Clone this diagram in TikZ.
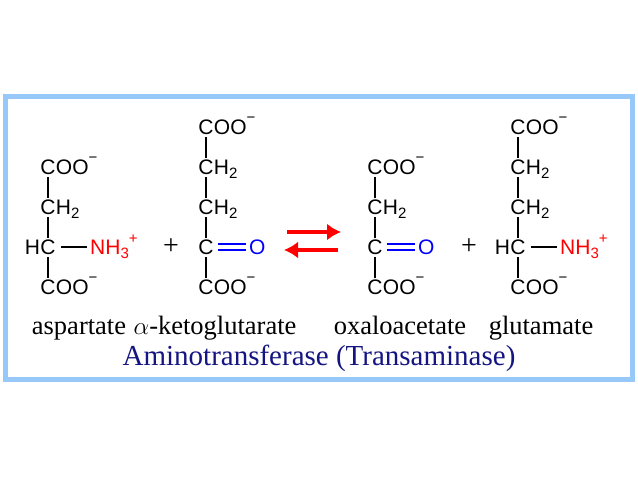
\documentclass[tikz,border=0pt]{standalone}
\usepackage{fontspec}
\usetikzlibrary{arrows.meta}
\setmainfont{Liberation Serif}
\newfontfamily\chemf{Liberation Sans}
\newcommand{\smf}{\fontsize{15}{15}\selectfont}
\begin{document}
\begin{tikzpicture}[x=1pt,y=-1pt,
  atm/.style={font=\chemf\fontsize{21}{24}\selectfont,inner sep=2pt},
  rest/.style={font=\chemf\fontsize{21}{24}\selectfont,inner sep=0pt,anchor=base west,xshift=-2pt},
  lft/.style={font=\chemf\fontsize{21}{24}\selectfont,inner sep=0pt,anchor=base east,xshift=2pt},
  bond/.style={line width=1.3pt},
  lab/.style={font=\fontsize{26.5}{28}\selectfont,anchor=base}]
\useasboundingbox (0,0) rectangle (638,478);
\fill[white] (0,0) rectangle (638,478);
\draw[color={rgb,255:red,150;green,200;blue,250},line width=5pt] (5,97) rectangle (632,380);
\newcommand{\coo}[2]{\node[atm,anchor=base] (#1) at #2 {C};
  \node[rest] at (#1.base east) {OO\raisebox{1.1ex}{\smf−}};}
\newcommand{\ch}[2]{\node[atm,anchor=base] (#1) at #2 {C};
  \node[rest] at (#1.base east) {H\raisebox{-0.3ex}{\smf 2}};}
\newcommand{\nhthree}{NH\raisebox{-0.3ex}{\smf 3}\raisebox{1.0ex}{\smf +}}
% aspartate
\coo{a1}{(48,175)}
\ch{a2}{(48,215)}
\node[atm,anchor=base] (a3) at (48,255) {C};
\node[lft] at (a3.base west) {H};
\coo{a4}{(48,295)}
\node[atm,anchor=base west,text=red,inner sep=0pt] (an) at (90,255) {\nhthree};
\draw[bond] (a1.south)--(a2.north) (a2.south)--(a3.north) (a3.south)--(a4.north);
\draw[bond] (61,247)--(87,247);
\node[font=\fontsize{28}{28}\selectfont] (p1) at (171,247) {+};
% ketoglutarate
\coo{k1}{(206,135)}
\ch{k2}{(206,175)}
\ch{k3}{(206,215)}
\node[atm,anchor=base] (k4) at (206,255) {C};
\node[atm,anchor=base west,text=blue,inner sep=0pt] (ko) at (249,255) {O};
\coo{k5}{(206,295)}
\draw[bond] (k1.south)--(k2.north) (k2.south)--(k3.north) (k3.south)--(k4.north) (k4.south)--(k5.north);
\draw[blue,line width=1.3pt] (218,244)--(246,244) (218,250)--(246,250);
% arrows
\coordinate (r1) at (287,232); \coordinate (r2) at (341,232);
\coordinate (l1) at (338,250); \coordinate (l2) at (284,250);
\draw[red,line width=3.5pt,-{Latex[length=14pt,width=17pt]}] (r1)--(r2);
\draw[red,line width=3.5pt,-{Latex[length=14pt,width=17pt]}] (l1)--(l2);
% oxaloacetate
\coo{o1}{(375,175)}
\ch{o2}{(375,215)}
\node[atm,anchor=base] (o3) at (375,255) {C};
\node[atm,anchor=base west,text=blue,inner sep=0pt] (oo) at (418,255) {O};
\coo{o4}{(375,295)}
\draw[bond] (o1.south)--(o2.north) (o2.south)--(o3.north) (o3.south)--(o4.north);
\draw[blue,line width=1.3pt] (387,244)--(415,244) (387,250)--(415,250);
\node[font=\fontsize{28}{28}\selectfont] (p2) at (469,247) {+};
% glutamate
\coo{g1}{(518,135)}
\ch{g2}{(518,175)}
\ch{g3}{(518,215)}
\node[atm,anchor=base] (g4) at (518,255) {C};
\node[lft] at (g4.base west) {H};
\node[atm,anchor=base west,text=red,inner sep=0pt] (gn) at (560,255) {\nhthree};
\coo{g5}{(518,295)}
\draw[bond] (g1.south)--(g2.north) (g2.south)--(g3.north) (g3.south)--(g4.north) (g4.south)--(g5.north);
\draw[bond] (531,247)--(557,247);
% labels
\node[lab] (t1) at (79,335) {aspartate};
\node[lab] (t2) at (215,335) {$\alpha$-ketoglutarate};
\node[lab] (t3) at (400,335) {oxaloacetate};
\node[lab] (t4) at (541,335) {glutamate};
\node[font=\fontsize{29}{30}\selectfont,anchor=base,text={rgb,255:red,20;green,20;blue,130}] (tt) at (319,366) {Aminotransferase (Transaminase)};
\end{tikzpicture}
\end{document}
